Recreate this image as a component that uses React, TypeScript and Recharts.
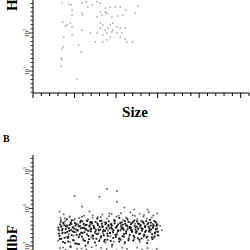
import React from "react"
import { Scatter, ScatterChart, XAxis, YAxis } from "recharts"

// panel A (top): size vs H, gray single dots
const topPoints: [number, number][] = [
  [35, 617], [43, 575], [46, 550], [59, 617], [64, 660], [66, 480], [71, 550], [77, 660],
  [81, 617], [87, 455], [93, 480], [99, 480], [105, 480], [112, 405], [126, 515], [123, 336],
  [47, 405], [47, 297], [59, 336], [60, 297], [77, 265], [83, 297], [89, 336], [95, 265],
  [102, 280], [108, 297], [81, 357], [87, 357], [36, 193], [45, 183], [39, 152], [41, 163],
  [47, 144], [81, 183], [84, 163], [93, 163], [96, 183], [101, 144], [81, 135], [90, 135],
  [87, 120], [96, 120], [105, 135], [111, 135], [59, 120], [69, 100], [77, 100], [89, 100],
  [95, 107], [101, 100], [107, 100], [84, 89], [93, 78], [105, 78], [111, 69], [113, 58],
  [120, 58], [75, 58], [84, 58], [89, 66], [37, 78], [47, 89], [55, 48], [36, 43],
  [35, 38], [58, 32], [34, 22], [35, 20], [34, 13.5], [53, 6.2], [32, 2.8],
]

// panel B (bottom): size vs lbF, dense cloud (dark dots)
const cloudDark: [number, number][] = [
  [30.5, 3120], [32, 1870], [33.4, 4420], [35, 2610], [36.2, 1290], [37.9, 3580], [39.1, 2240], [40.6, 5130],
  [42, 1640], [43.3, 2980], [44.9, 970], [46.1, 3860], [47.7, 2470], [49, 1410], [50.4, 4090], [52, 2760],
  [53.1, 1150], [54.8, 3340], [56.2, 2050], [57.5, 4710], [59, 1780], [60.3, 3010], [61.9, 2330], [63.2, 1020],
  [64.6, 3690], [66, 2580], [67.4, 1520], [68.9, 4280], [70.1, 2870], [71.6, 1930], [73, 3460], [74.5, 1240],
  [75.8, 2690], [77.3, 5370], [78.6, 2140], [80.1, 3250], [81.5, 1690], [82.8, 3970], [84.2, 2420], [85.7, 1330],
  [87.1, 3780], [88.4, 2910], [89.9, 1860], [91.2, 4560], [92.7, 2230], [94.1, 3150], [95.4, 1080], [96.9, 2640],
  [98.2, 4020], [99.7, 1750], [101.1, 3420], [102.4, 2510], [103.9, 5620], [105.3, 1470], [106.6, 2940], [108.1, 3710],
  [109.5, 2080], [110.8, 1260], [112.3, 3560], [113.7, 2790], [115, 4380], [116.5, 1980], [117.9, 3090], [119.2, 2370],
  [120.7, 1390], [122.1, 4810], [123.4, 2720], [124.9, 3290], [126.3, 1610], [127.6, 3880], [129.1, 2160], [130.5, 2990],
  [131.8, 4490], [133.3, 1820], [134.7, 3370], [136, 2560], [137.5, 1190], [138.9, 4140], [140.2, 2830], [141.7, 3520],
  [143.1, 1720], [144.4, 3060], [145.9, 4660], [147.3, 2290], [148.6, 3430], [150, 1940],
  [31.2, 2140], [32.6, 3760], [34.1, 1560], [35.5, 2870], [36.8, 4190], [38.4, 1210], [39.7, 3330], [41.2, 2390],
  [42.6, 1790], [44, 3640], [45.5, 2680], [46.8, 4870], [48.3, 1430], [49.7, 2920], [51.1, 3520], [52.6, 1980],
  [53.9, 2570], [55.4, 1120], [56.8, 4260], [58.2, 3070], [59.6, 2210], [61.1, 3890], [62.5, 1370], [63.9, 2790],
  [65.3, 4640], [66.8, 1840], [68.2, 3270], [69.6, 2450], [71, 3950], [72.5, 1580], [73.9, 2960], [75.3, 4410],
  [76.7, 2080], [78.1, 3610], [79.6, 1350], [81, 2740], [82.4, 4730], [83.8, 3180], [85.3, 1920], [86.7, 2530],
  [88.1, 4070], [89.5, 1480], [91, 3380], [92.4, 2260], [93.8, 3800], [95.2, 2870], [96.7, 1640], [98.1, 4620],
  [99.5, 3130], [100.9, 2020], [102.4, 3740], [103.8, 1310], [105.2, 2610], [106.6, 4290], [108.1, 3020], [109.5, 1770],
  [110.9, 3930], [112.3, 2480], [113.8, 5090], [115.2, 1560], [116.6, 3240], [118, 2690], [119.5, 4150], [120.9, 1880],
  [122.3, 3470], [123.7, 2330], [125.2, 4560], [126.6, 2840], [128, 1460], [129.4, 3650], [130.9, 2570], [132.3, 4340],
  [133.7, 2010], [135.1, 3180], [136.6, 1690], [138, 3860], [139.4, 2430], [140.8, 4970], [142.3, 2760], [143.7, 1530],
  [145.1, 3590], [146.5, 2180], [148, 4240], [149.4, 2910],
  [30.8, 2720], [32.3, 1540], [33.8, 3290], [35.2, 2190], [36.5, 3970], [38, 1660], [39.4, 2830], [40.9, 3510],
  [42.3, 1320], [43.7, 2540], [45.2, 4130], [46.5, 1950], [48, 3180], [49.4, 2360], [50.8, 1170], [52.3, 3820],
  [53.6, 2650], [55.1, 1720], [56.5, 3390], [57.9, 2280], [59.4, 4520], [60.7, 1430], [62.2, 2970], [63.6, 3620],
  [65, 2040], [66.5, 1270], [67.9, 3480], [69.3, 2760], [70.7, 4340], [72.2, 1850], [73.6, 3070], [75, 2390],
  [76.4, 1560], [77.9, 3940], [79.3, 2610], [80.7, 4680], [82.1, 1810], [83.6, 3360], [85, 2690], [86.4, 1460],
  [87.8, 4210], [89.3, 2140], [90.7, 3630], [92.1, 2920], [93.5, 1370], [95, 3540], [96.4, 2310], [97.8, 4930],
  [99.2, 1990], [100.7, 3210], [102.1, 2620], [103.5, 1560], [104.9, 4080], [106.4, 3300], [107.8, 1840], [109.2, 2730],
  [110.6, 4610], [112.1, 2170], [113.5, 3470], [114.9, 1410], [116.3, 2980], [117.8, 3790], [119.2, 2540], [120.6, 4470],
  [122, 1730], [123.5, 3130], [124.9, 2450], [126.3, 4020], [127.7, 2090], [129.2, 3410], [130.6, 1580], [132, 2860],
  [133.4, 3990], [134.9, 2370], [136.3, 4610], [137.7, 1790], [139.1, 3280], [140.6, 2590], [142, 4190], [143.4, 2060],
  [144.8, 3410], [146.3, 1810], [147.7, 2840], [149.1, 3760], [150.5, 2390],
]

// panel B (bottom): lighter dots, edges and outliers
const cloudLight: [number, number][] = [
  [30.2, 1380], [31.9, 2560], [33.1, 5640], [34.7, 3440], [36, 910], [37.4, 2280], [38.8, 4620], [40.3, 1730],
  [41.7, 3180], [43.1, 2070], [44.6, 1260], [46, 4450], [47.4, 3010], [48.8, 1870], [50.3, 5280], [51.7, 2340],
  [53.2, 860], [54.5, 3750], [56, 1950], [57.3, 2890], [58.8, 6020], [60.2, 1560], [61.6, 3470], [63.1, 2640],
  [64.5, 4860], [65.9, 1160], [67.3, 2480], [68.8, 3830], [70.2, 1700], [71.6, 5710], [73.1, 3260], [74.4, 2180],
  [75.9, 1020], [77.3, 4030], [78.7, 2790], [80.2, 1490], [81.6, 5910], [83, 3560], [84.4, 2110], [85.9, 4290],
  [87.3, 1230], [88.7, 3100], [90.1, 2570], [91.6, 6240], [93, 1820], [94.4, 3990], [95.8, 2450], [97.3, 1300],
  [98.7, 4760], [100.1, 3060], [101.5, 2270], [103, 6410], [104.4, 1640], [105.8, 3620], [107.2, 2890], [108.6, 4920],
  [110.1, 1150], [111.5, 2380], [112.9, 5560], [114.3, 3200], [115.8, 1790], [117.2, 4240], [118.6, 2660], [120, 6650],
  [121.5, 1520], [122.9, 3950], [124.3, 2210], [125.7, 5180], [127.2, 3040], [128.6, 1280], [130, 4690], [131.4, 2620],
  [132.9, 6090], [134.3, 1960], [135.7, 3520], [137.1, 5380], [138.6, 1410], [140, 3170], [141.4, 2310], [142.8, 5760],
  [144.3, 3890], [145.7, 1670], [147.1, 4430], [148.5, 2510], [150, 3720], [151.5, 1890], [153, 3460], [155, 2620],
  [33.5, 4980], [38.2, 5470], [44.3, 6130], [49.1, 4870], [55.6, 5560], [61.3, 6380], [66.4, 5190], [72, 6560],
  [77.9, 5840], [83.5, 6910], [89.2, 5350], [94.6, 7120], [100.4, 6040], [105.9, 7480], [111.8, 5730], [117.1, 7850],
  [122.6, 6330], [128.4, 7260], [133.6, 6790], [139.3, 8010], [144.8, 6470], [149.7, 7330],
  [32.4, 880], [39.5, 790], [45.8, 940], [52.3, 720], [58.4, 860], [64.2, 810], [70.7, 930], [76.4, 760],
  [82.1, 890], [88.6, 820], [94.9, 950], [100.6, 770], [107.5, 900], [113.1, 840], [119.8, 730], [125.4, 910],
  [131.2, 800], [137.8, 880], [143.5, 760], [149.1, 850],
  [50, 21800], [80, 20500], [89, 33000], [101, 29300], [59, 11300], [101, 15200], [110, 10600],
  [122, 9400], [68, 8300], [37, 7000], [138, 9400], [44, 5900], [92, 7400], [32, 8300],
]

const xTicks = [0, 10, 20, 30, 40, 50, 60, 70, 80, 90, 100, 110, 120, 130, 140, 150, 160, 170, 180, 190, 200, 210, 220, 230, 240, 250, 260]
const topDecades = [0, 1, 2, 3, 4]
const bottomDecades = [1, 2, 3, 4, 5]

const topDomain: [number, number] = [2.64, 10000]
const bottomDomain: [number, number] = [26.7, 267300]

const serif = "'Liberation Serif', 'DejaVu Serif', serif"

function logTicks(decades: number[], domain: [number, number]) {
  const out: number[] = []
  decades.forEach((n) => {
    for (let k = 0; k < 9; k++) {
      const v = Math.pow(10, n + k / 9)
      if (v >= domain[0] && v <= domain[1]) out.push(v)
    }
  })
  return out
}

const toRows = (pts: [number, number][]) => pts.map(([x, y]) => ({ x, y }))

const dot = (fill: string, size: number) => (p: any) => (
  <rect x={p.cx - size / 2} y={p.cy - size / 2} width={size} height={size} fill={fill} />
)

const XTick = (p: any) => {
  const major = p.payload.value % 50 === 0
  return <line x1={p.x} x2={p.x} y1={p.y} y2={p.y + (major ? 5 : 3)} stroke="#000" strokeWidth={1} />
}

// y ticks: short minor marks, longer decade marks with rotated 10^n labels
const makeYTick = (minLabelY: number) => (p: any) => {
  const e = Math.log10(p.payload.value)
  const major = Math.abs(e - Math.round(e)) < 1e-6
  const lx = p.x - 3.5
  return (
    <g>
      <line x1={p.x - (major ? 4 : 2.5)} x2={p.x} y1={p.y} y2={p.y} stroke="#000" strokeWidth={0.8} />
      {major && p.y > minLabelY && (
        <text
          x={lx}
          y={p.y}
          transform={`rotate(-90, ${lx}, ${p.y})`}
          textAnchor="middle"
          fontSize={6.5}
          style={{ fontFamily: serif }}
          fill="#000"
        >
          10<tspan dy={-3} fontSize={4.5}>{Math.round(e)}</tspan>
        </text>
      )}
    </g>
  )
}

function Panel({ domain, decades, series, border, minLabelY }: { domain: [number, number]; decades: number[]; series: { pts: [number, number][]; fill: string; size: number }[]; border: string; minLabelY: number }) {
  return (
    <>
      <XAxis
        xAxisId="b"
        dataKey="x"
        type="number"
        domain={[0, 260]}
        ticks={xTicks}
        interval={0}
        height={30}
        tickSize={0}
        tickMargin={0}
        tick={XTick}
        tickLine={false}
        axisLine={{ stroke: "#000" }}
        allowDataOverflow
      />
      <XAxis xAxisId="t" orientation="top" type="number" domain={[0, 260]} height={0} tick={false} tickLine={false} axisLine={{ stroke: border }} />
      <YAxis
        yAxisId="l"
        dataKey="y"
        type="number"
        scale="log"
        domain={domain}
        ticks={logTicks(decades, domain)}
        interval={0}
        width={33}
        tickSize={0}
        tickMargin={0}
        tick={makeYTick(minLabelY)}
        tickLine={false}
        axisLine={{ stroke: "#000" }}
        allowDataOverflow
      />
      <YAxis yAxisId="r" orientation="right" type="number" domain={[0, 1]} width={0} tick={false} tickLine={false} axisLine={{ stroke: border }} />
      {series.map((s, i) => (
        <Scatter
          key={i}
          xAxisId="b"
          yAxisId="l"
          data={toRows(s.pts)}
          shape={dot(s.fill, s.size)}
          isAnimationActive={false}
        />
      ))}
    </>
  )
}

export default function App() {
  return (
    <div style={{ position: "fixed", left: 0, top: 0, width: 250, height: 250, overflow: "hidden", background: "#fff" }}>
      <div style={{ position: "absolute", left: 0, top: -60 }}>
        <ScatterChart width={250} height={183} margin={{ top: 17, right: 1, bottom: 0, left: 0 }}>
          {Panel({ domain: topDomain, decades: topDecades, border: "#777", minLabelY: 72, series: [{ pts: topPoints, fill: "#8a8a8a", size: 1.3 }] })}
        </ScatterChart>
      </div>
      <div style={{ position: "absolute", left: 0, top: 150 }}>
        <ScatterChart width={250} height={185} margin={{ top: 5, right: 1, bottom: 0, left: 0 }}>
          {Panel({
            domain: bottomDomain,
            decades: bottomDecades,
            border: "#222",
            minLabelY: 0,
            series: [
              { pts: cloudLight, fill: "#666", size: 1.7 },
              { pts: cloudDark, fill: "#111", size: 1.8 },
            ],
          })}
        </ScatterChart>
      </div>
      <svg width={250} height={250} style={{ position: "absolute", left: 0, top: 0, pointerEvents: "none" }}>
        <text x={16.5} y={11} transform="rotate(-90, 16.5, 11)" textAnchor="start" fontSize={15} fontWeight="bold" style={{ fontFamily: serif }}>HlbF</text>
        <text x={17} y={225} transform="rotate(-90, 17, 225)" textAnchor="end" fontSize={15} fontWeight="bold" style={{ fontFamily: serif }}>HlbF</text>
        <text x={135} y={117} textAnchor="middle" fontSize={15} fontWeight="bold" style={{ fontFamily: serif }}>Size</text>
        <text x={3} y={142} fontSize={10} fontWeight="bold" style={{ fontFamily: serif }}>B</text>
      </svg>
    </div>
  )
}
